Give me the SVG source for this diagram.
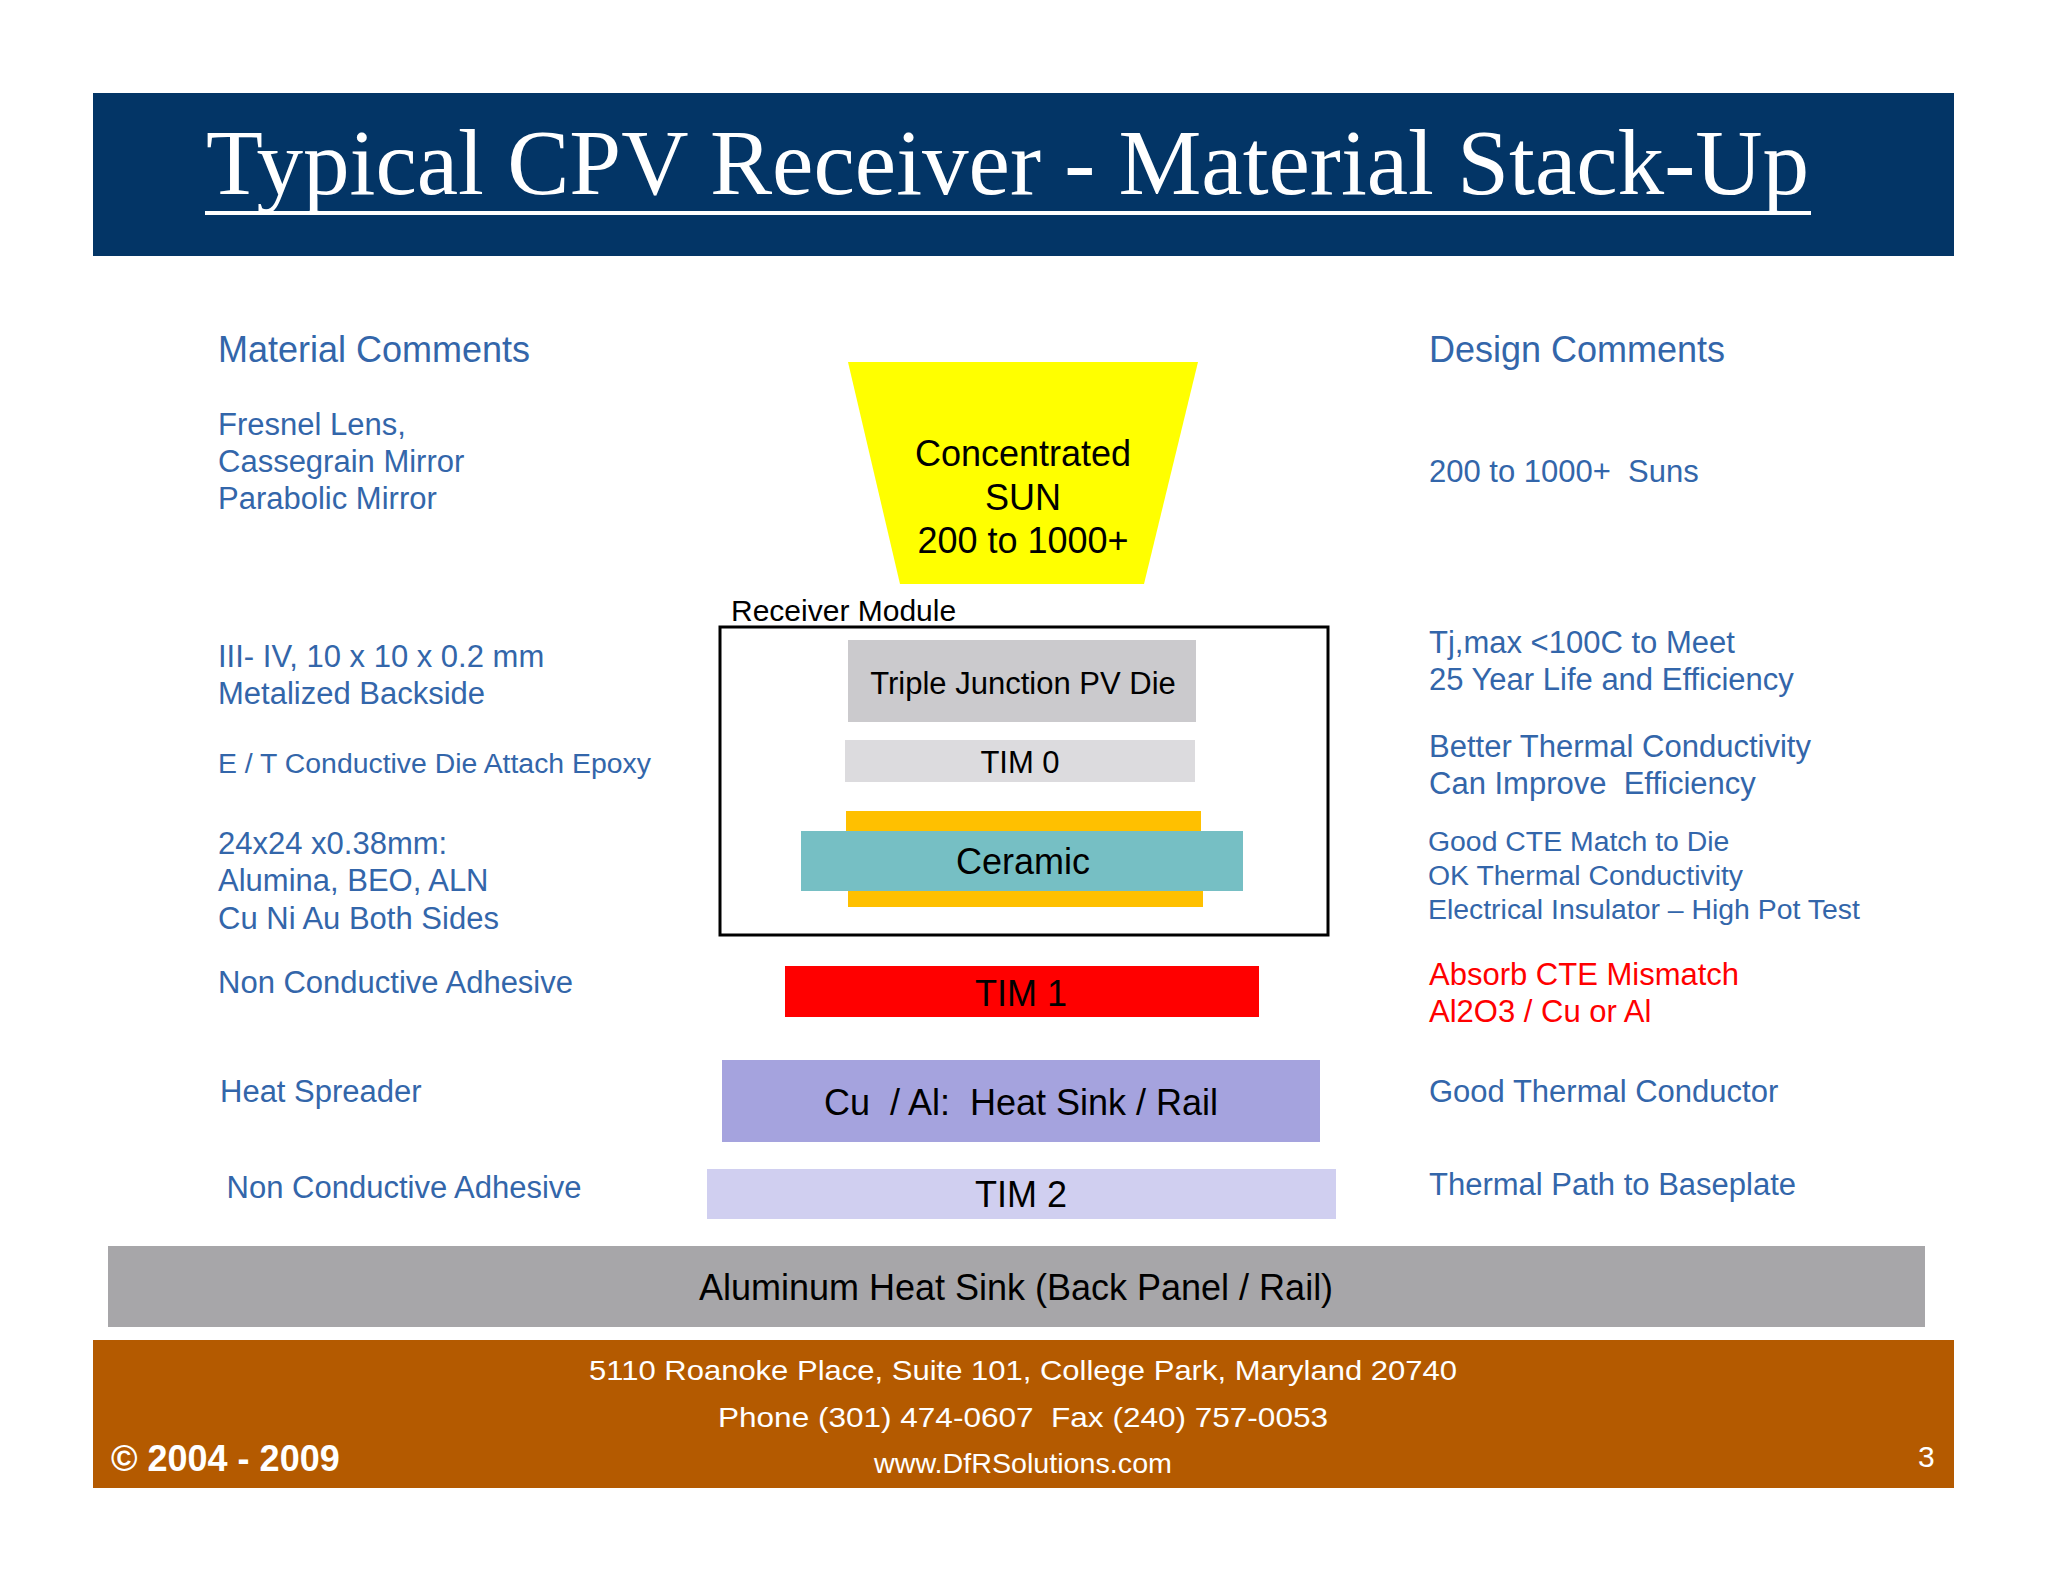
<svg xmlns="http://www.w3.org/2000/svg" width="2048" height="1582" viewBox="0 0 2048 1582" xml:space="preserve">
<style>
text{white-space:pre}
.c{font-family:"Liberation Sans",Arial,sans-serif;fill:#3366aa}
.s31{font-size:31px}
.s28{font-size:28.4px}
.s36{font-size:36px}
.k{font-family:"Liberation Sans",Arial,sans-serif;fill:#000;text-anchor:middle}
.f{font-family:"Liberation Sans",Arial,sans-serif;fill:#fff;text-anchor:middle;font-size:28px}
.r{fill:#ff0000}
</style>
<rect x="0" y="0" width="2048" height="1582" fill="#ffffff"/>
<g id="title">
<rect x="93" y="93" width="1861" height="163" fill="#033566"/>
<text x="206" y="194" font-family="'Liberation Serif','Times New Roman',serif" font-size="94" fill="#fff" textLength="1603" lengthAdjust="spacingAndGlyphs">Typical CPV Receiver - Material Stack-Up</text>
<rect x="205" y="211" width="1606" height="4" fill="#fff"/>
</g>
<g id="headers">
<text class="c s36" x="218" y="362">Material Comments</text>
<text class="c s36" x="1429" y="362">Design Comments</text>
</g>
<g id="material-comments">
<text class="c s31" x="218" y="435">Fresnel Lens,</text>
<text class="c s31" x="218" y="472">Cassegrain Mirror</text>
<text class="c s31" x="218" y="509">Parabolic Mirror</text>
<text class="c s31" x="218" y="667">III- IV, 10 x 10 x 0.2 mm</text>
<text class="c s31" x="218" y="704">Metalized Backside</text>
<text class="c s28" x="218" y="773">E / T Conductive Die Attach Epoxy</text>
<text class="c s31" x="218" y="854">24x24 x0.38mm:</text>
<text class="c s31" x="218" y="891">Alumina, BEO, ALN</text>
<text class="c s31" x="218" y="929">Cu Ni Au Both Sides</text>
<text class="c s31" x="218" y="993">Non Conductive Adhesive</text>
<text class="c s31" x="220" y="1102">Heat Spreader</text>
<text class="c s31" x="218" y="1198"> Non Conductive Adhesive</text>
</g>
<g id="design-comments">
<text class="c s31" x="1429" y="482">200 to 1000+  Suns</text>
<text class="c s31" x="1429" y="653">Tj,max &lt;100C to Meet</text>
<text class="c s31" x="1429" y="690">25 Year Life and Efficiency</text>
<text class="c s31" x="1429" y="757">Better Thermal Conductivity</text>
<text class="c s31" x="1429" y="794">Can Improve  Efficiency</text>
<text class="c s28" x="1428" y="851">Good CTE Match to Die</text>
<text class="c s28" x="1428" y="885">OK Thermal Conductivity</text>
<text class="c s28" x="1428" y="919">Electrical Insulator – High Pot Test</text>
<text class="c s31 r" x="1429" y="985">Absorb CTE Mismatch</text>
<text class="c s31 r" x="1429" y="1022">Al2O3 / Cu or Al</text>
<text class="c s31" x="1429" y="1102">Good Thermal Conductor</text>
<text class="c s31" x="1429" y="1195">Thermal Path to Baseplate</text>
</g>
<g id="sun">
<polygon points="848,362 1198,362 1144,584 900,584" fill="#ffff00"/>
<text class="k s36" x="1023" y="466">Concentrated</text>
<text class="k s36" x="1023" y="510">SUN</text>
<text class="k s36" x="1023" y="553">200 to 1000+</text>
</g>
<g id="receiver-module">
<rect x="720" y="627" width="608" height="308" fill="none" stroke="#000" stroke-width="3"/>
<text font-family="'Liberation Sans',Arial,sans-serif" font-size="30" fill="#000" x="731" y="621">Receiver Module</text>
</g>
<g id="pv-die">
<rect x="848" y="640" width="348" height="82" fill="#cbcacd"/>
<text class="k s31" x="1023" y="694">Triple Junction PV Die</text>
</g>
<g id="tim0">
<rect x="845" y="740" width="350" height="42" fill="#dcdbde"/>
<text class="k s31" x="1020" y="773">TIM 0</text>
</g>
<g id="ceramic">
<rect x="846" y="811" width="355" height="22" fill="#ffc000"/>
<rect x="848" y="889" width="355" height="18" fill="#ffc000"/>
<rect x="801" y="831" width="442" height="60" fill="#76bfc4"/>
<text class="k s36" x="1023" y="874">Ceramic</text>
</g>
<g id="tim1">
<rect x="785" y="966" width="474" height="51" fill="#ff0000"/>
<text class="k s36" x="1021" y="1006">TIM 1</text>
</g>
<g id="heat-sink-rail">
<rect x="722" y="1060" width="598" height="82" fill="#a5a3de"/>
<text class="k s36" x="1021" y="1115">Cu  / Al:  Heat Sink / Rail</text>
</g>
<g id="tim2">
<rect x="707" y="1169" width="629" height="50" fill="#d0cff0"/>
<text class="k s36" x="1021" y="1207">TIM 2</text>
</g>
<g id="aluminum-heat-sink">
<rect x="108" y="1246" width="1817" height="81" fill="#a7a6a9"/>
<text class="k s36" x="1016" y="1300">Aluminum Heat Sink (Back Panel / Rail)</text>
</g>
<g id="footer">
<rect x="93" y="1340" width="1861" height="148" fill="#b45a00"/>
<text class="f" x="1023" y="1380" textLength="868" lengthAdjust="spacingAndGlyphs">5110 Roanoke Place, Suite 101, College Park, Maryland 20740</text>
<text class="f" x="1023" y="1427" textLength="610" lengthAdjust="spacingAndGlyphs">Phone (301) 474-0607  Fax (240) 757-0053</text>
<text class="f" x="1023" y="1473" textLength="298" lengthAdjust="spacingAndGlyphs">www.DfRSolutions.com</text>
<text font-family="'Liberation Sans',Arial,sans-serif" font-size="36" font-weight="bold" fill="#fff" x="111" y="1471">© 2004 - 2009</text>
<text font-family="'Liberation Sans',Arial,sans-serif" font-size="30" fill="#fff" x="1918" y="1467">3</text>
</g>
</svg>
